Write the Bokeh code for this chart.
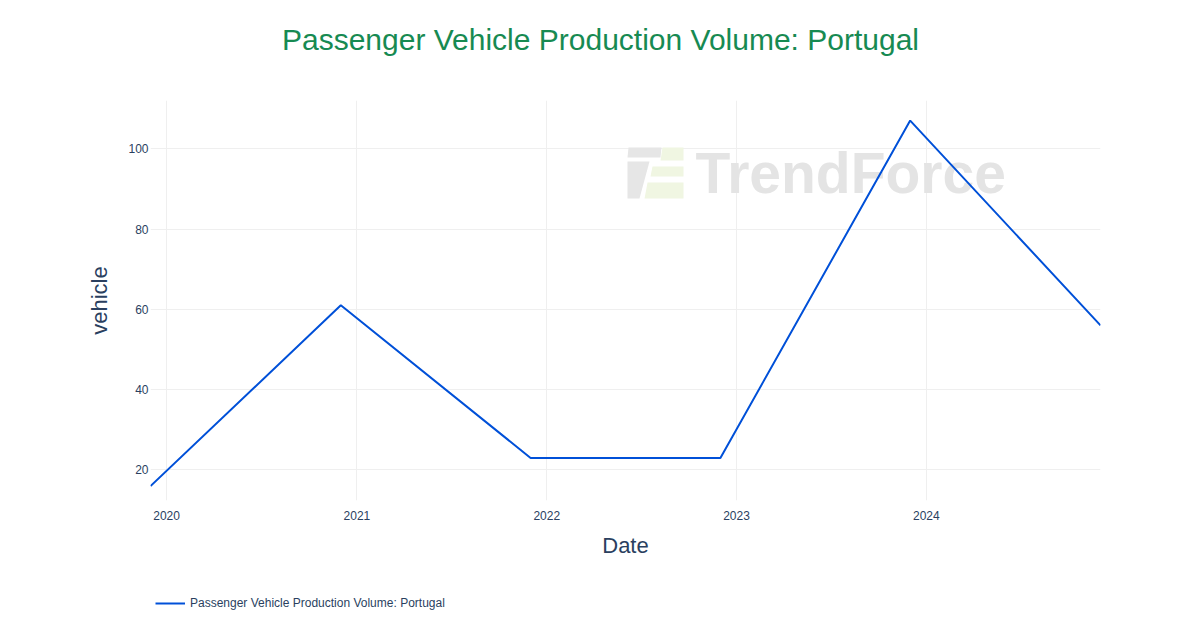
from datetime import datetime
from bokeh.plotting import figure
from bokeh.layouts import column
from bokeh.models import (ColumnDataSource, Range1d, FixedTicker, DatetimeTickFormatter,
                          Legend, LegendItem, Label, PolyAnnotation)
from bokeh.embed import file_html
from bokeh.resources import INLINE

dates = ["2019-12-01", "2020-12-01", "2021-12-01", "2022-12-01", "2023-12-01", "2024-12-01"]
values = [16, 61, 23, 23, 107, 56]
tick_years = [2020, 2021, 2022, 2023, 2024]
y_ticks = [20, 40, 60, 80, 100]
series_name = "Passenger Vehicle Production Volume: Portugal"
title_text = "Passenger Vehicle Production Volume: Portugal"

x = [datetime.strptime(d, "%Y-%m-%d") for d in dates]
src = ColumnDataSource(dict(x=x, y=values))

FONT = "Liberation Sans"
TXT = "#2a3f5f"
LINE_COLOR = "#0050d8"


def strip(height):
    f = figure(width=1200, height=height, output_backend="svg", toolbar_location=None,
               x_range=Range1d(0, 1), y_range=Range1d(0, 1),
               min_border_left=0, min_border_right=0, min_border_top=0, min_border_bottom=0)
    f.axis.visible = False
    f.grid.visible = False
    f.outline_line_color = None
    f.background_fill_color = "white"
    f.border_fill_color = "white"
    return f


# title strip
p0 = strip(100)
p0.add_layout(Label(x=450, y=61, x_units="screen", y_units="screen", text=title_text,
                    text_font=FONT, text_font_size="30px", text_color="#178a52",
                    text_align="center", text_baseline="middle"))

# main chart
p = figure(width=1200, height=470, output_backend="svg", toolbar_location=None,
           x_axis_type="datetime", title=None,
           x_range=Range1d(x[0], x[-1]), y_range=Range1d(12.4, 112),
           min_border_left=150, min_border_right=100, min_border_top=0,
           min_border_bottom=70)
p.background_fill_color = "white"
p.border_fill_color = "white"
p.outline_line_color = None

tick_ms = [datetime(yy, 1, 1).timestamp() * 1000 for yy in tick_years]
p.xaxis.ticker = FixedTicker(ticks=tick_ms)
p.xaxis.formatter = DatetimeTickFormatter(years="%Y", months="%Y", days="%Y")
p.yaxis.ticker = FixedTicker(ticks=y_ticks)

for ax in (p.xaxis[0], p.yaxis[0]):
    ax.axis_line_color = None
    ax.major_tick_line_color = None
    ax.minor_tick_line_color = None
    ax.major_tick_out = 0
    ax.major_tick_in = 0
    ax.minor_tick_out = 0
    ax.minor_tick_in = 0
    ax.major_label_text_font = FONT
    ax.major_label_text_font_size = "12px"
    ax.major_label_text_color = TXT
    ax.axis_label_text_font = FONT
    ax.axis_label_text_font_size = "22px"
    ax.axis_label_text_font_style = "normal"
    ax.axis_label_text_color = TXT

p.xaxis.axis_label = "Date"
p.yaxis.axis_label = "vehicle"
p.xaxis.major_label_standoff = 10
p.yaxis.major_label_standoff = 2
p.xaxis.axis_label_standoff = 10
p.yaxis.axis_label_standoff = 13

p.xgrid.grid_line_color = "#efefef"
p.ygrid.grid_line_color = "#efefef"

# watermark (screen units, relative to the frame's bottom-left; frame is 400 px tall)
H = 400
def wm_poly(xs, ys, color):
    return PolyAnnotation(xs=[v - 150 for v in xs], ys=[H - (v - 100) for v in ys],
                          xs_units="screen", ys_units="screen",
                          fill_color=color, fill_alpha=1, line_alpha=0, level="underlay")

p.add_layout(wm_poly([628, 661, 660, 627], [147, 147, 157, 157], "#e6e6e6"))
p.add_layout(wm_poly([627, 649, 639, 627], [161, 161, 198, 198], "#e6e6e6"))
p.add_layout(wm_poly([662, 683, 683, 660], [147, 147, 160, 160], "#f0f6e2"))
p.add_layout(wm_poly([652, 683, 683, 650], [166, 166, 176, 176], "#f0f6e2"))
p.add_layout(wm_poly([647, 683, 683, 644], [182, 182, 198, 198], "#f0f6e2"))
p.add_layout(Label(x=545, y=328, x_units="screen", y_units="screen", text="TrendForce",
                   text_font=FONT, text_font_style="bold", text_font_size="57px",
                   text_color="#e4e4e4", text_baseline="middle", level="underlay"))

r = p.line("x", "y", source=src, line_color=LINE_COLOR, line_width=2)

# legend strip
p2 = strip(60)
r2 = p2.line("x", "y", source=src, line_color=LINE_COLOR, line_width=2)
legend = Legend(items=[LegendItem(label=series_name, renderers=[r2])],
                location=(5, 17), orientation="horizontal",
                label_text_font=FONT, label_text_font_size="12px", label_text_color=TXT,
                background_fill_alpha=0, border_line_color=None,
                glyph_width=30, label_standoff=5, padding=0, margin=0)
p2.add_layout(legend)

open("out.html", "w").write(file_html(column(p0, p, p2, spacing=0), INLINE))
